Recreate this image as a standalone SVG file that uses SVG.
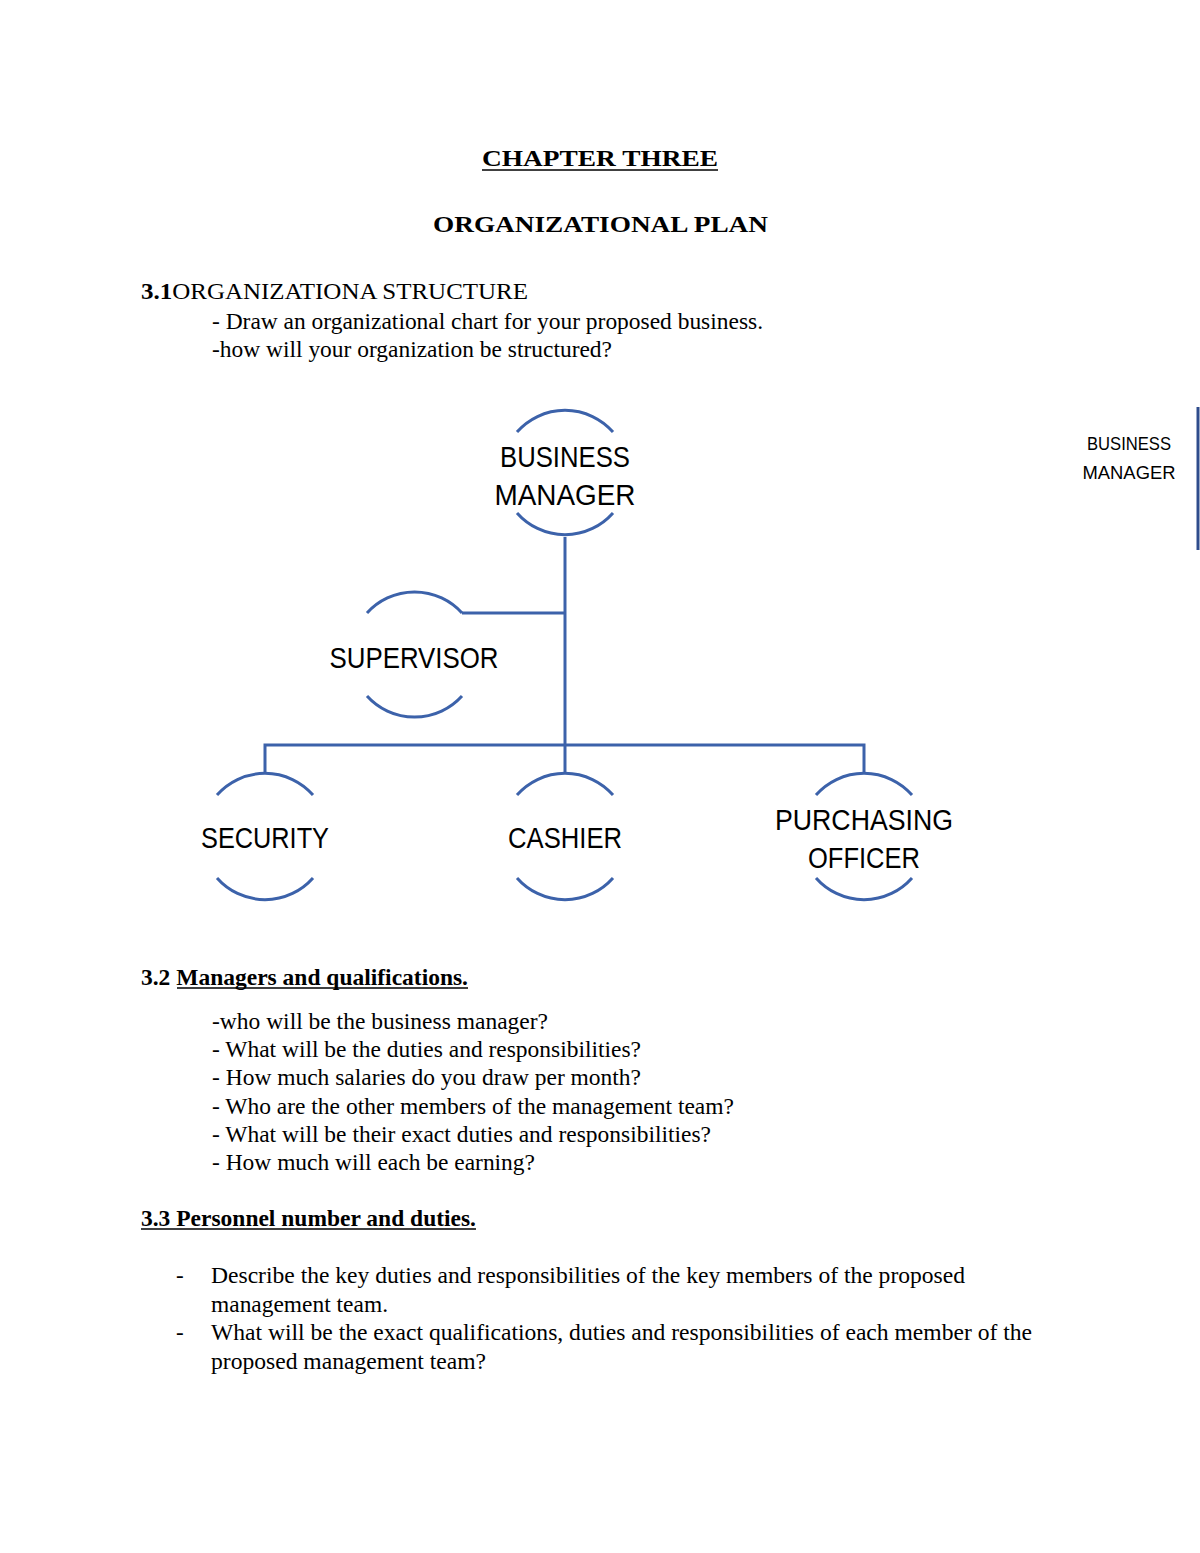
<svg xmlns="http://www.w3.org/2000/svg" width="1200" height="1553" viewBox="0 0 1200 1553">
<style>
.s{font-family:"Liberation Serif","Times New Roman",serif;font-size:23px;fill:#000}
.h{font-size:24px}
.b{font-weight:bold}
.n{font-family:"Liberation Sans",Arial,sans-serif;font-size:30px;fill:#000;text-anchor:middle}
.r{font-family:"Liberation Sans",Arial,sans-serif;font-size:18px;fill:#000;text-anchor:middle}
.arc{fill:none;stroke:#3C62AA;stroke-width:3}
.con{fill:none;stroke:#3C62AA;stroke-width:3}
.ul{stroke:#000;stroke-width:1.5}
</style>
<rect width="1200" height="1553" fill="#fff"/>

<g id="headings">
<text class="s h b" x="482" y="166" textLength="236" lengthAdjust="spacingAndGlyphs">CHAPTER THREE</text>
<line class="ul" x1="482" y1="170" x2="718" y2="170"/>
<text class="s h b" x="433" y="232" textLength="335" lengthAdjust="spacingAndGlyphs">ORGANIZATIONAL PLAN</text>
<text class="s" x="141" y="299" textLength="387" lengthAdjust="spacingAndGlyphs"><tspan class="b">3.1</tspan>ORGANIZATIONA STRUCTURE</text>
<text class="s" x="212" y="329" textLength="551" lengthAdjust="spacingAndGlyphs">- Draw an organizational chart for your proposed business.</text>
<text class="s" x="212" y="357" textLength="400" lengthAdjust="spacingAndGlyphs">-how will your organization be structured?</text>
</g>

<g id="connectors">
<path class="con" d="M565 537 V772"/>
<path class="con" d="M462 613 H565"/>
<path class="con" d="M265 772 V745 H864 V772"/>
</g>

<g id="node-business-manager">
<path class="arc" d="M517 432 A64 64 0 0 1 613 432"/>
<path class="arc" d="M517 513 A64 64 0 0 0 613 513"/>
<text class="n" x="565" y="467" textLength="130" lengthAdjust="spacingAndGlyphs">BUSINESS</text>
<text class="n" x="565" y="505" textLength="141" lengthAdjust="spacingAndGlyphs">MANAGER</text>
</g>

<g id="node-supervisor">
<path class="arc" d="M367 613 A64 64 0 0 1 462 613"/>
<path class="arc" d="M367 696 A64 64 0 0 0 462 696"/>
<text class="n" x="414" y="668" textLength="169" lengthAdjust="spacingAndGlyphs">SUPERVISOR</text>
</g>

<g id="node-security">
<path class="arc" d="M217 795 A64 64 0 0 1 313 795"/>
<path class="arc" d="M217 878 A64 64 0 0 0 313 878"/>
<text class="n" x="265" y="848" textLength="128" lengthAdjust="spacingAndGlyphs">SECURITY</text>
</g>

<g id="node-cashier">
<path class="arc" d="M517 795 A64 64 0 0 1 613 795"/>
<path class="arc" d="M517 878 A64 64 0 0 0 613 878"/>
<text class="n" x="565" y="848" textLength="114" lengthAdjust="spacingAndGlyphs">CASHIER</text>
</g>

<g id="node-purchasing-officer">
<path class="arc" d="M816 795 A64 64 0 0 1 912 795"/>
<path class="arc" d="M816 878 A64 64 0 0 0 912 878"/>
<text class="n" x="864" y="830" textLength="178" lengthAdjust="spacingAndGlyphs">PURCHASING</text>
<text class="n" x="864" y="868" textLength="112" lengthAdjust="spacingAndGlyphs">OFFICER</text>
</g>

<g id="side-label">
<text class="r" x="1129" y="450" textLength="84" lengthAdjust="spacingAndGlyphs">BUSINESS</text>
<text class="r" x="1129" y="479" textLength="93" lengthAdjust="spacingAndGlyphs">MANAGER</text>
<line x1="1198" y1="407" x2="1198" y2="550" stroke="#2F4C8C" stroke-width="3"/>
</g>

<g id="section-3-2">
<text class="s b" x="141" y="985" textLength="327" lengthAdjust="spacingAndGlyphs">3.2 Managers and qualifications.</text>
<line class="ul" x1="177" y1="988" x2="468" y2="988"/>
<text class="s" x="212" y="1029" textLength="336" lengthAdjust="spacingAndGlyphs">-who will be the business manager?</text>
<text class="s" x="212" y="1057" textLength="429" lengthAdjust="spacingAndGlyphs">- What will be the duties and responsibilities?</text>
<text class="s" x="212" y="1085" textLength="429" lengthAdjust="spacingAndGlyphs">- How much salaries do you draw per month?</text>
<text class="s" x="212" y="1114" textLength="522" lengthAdjust="spacingAndGlyphs">- Who are the other members of the management team?</text>
<text class="s" x="212" y="1142" textLength="499" lengthAdjust="spacingAndGlyphs">- What will be their exact duties and responsibilities?</text>
<text class="s" x="212" y="1170" textLength="323" lengthAdjust="spacingAndGlyphs">- How much will each be earning?</text>
</g>

<g id="section-3-3">
<text class="s b" x="141" y="1226" textLength="335" lengthAdjust="spacingAndGlyphs">3.3 Personnel number and duties.</text>
<line class="ul" x1="141" y1="1229" x2="476" y2="1229"/>
<text class="s" x="176" y="1283">-</text>
<text class="s" x="211" y="1283" textLength="754" lengthAdjust="spacingAndGlyphs">Describe the key duties and responsibilities of the key members of the proposed</text>
<text class="s" x="211" y="1312" textLength="177" lengthAdjust="spacingAndGlyphs">management team.</text>
<text class="s" x="176" y="1340">-</text>
<text class="s" x="211" y="1340" textLength="821" lengthAdjust="spacingAndGlyphs">What will be the exact qualifications, duties and responsibilities of each member of the</text>
<text class="s" x="211" y="1369" textLength="275" lengthAdjust="spacingAndGlyphs">proposed management team?</text>
</g>
</svg>
